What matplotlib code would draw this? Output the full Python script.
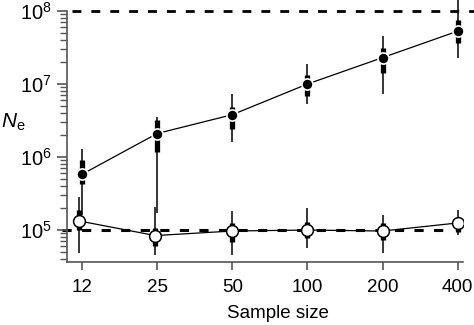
import matplotlib
matplotlib.use('Agg')
import matplotlib.pyplot as plt
import numpy as np
from matplotlib.ticker import LogLocator, NullFormatter

plt.rcParams['font.family'] = ['Liberation Sans', 'DejaVu Sans']
plt.rcParams['mathtext.fontset'] = 'custom'
plt.rcParams['mathtext.rm'] = 'Liberation Sans'
plt.rcParams['mathtext.it'] = 'Liberation Sans:italic'

sample_sizes = ['12', '25', '50', '100', '200', '400']

# closed circles: estimate, inner (thick) range, outer (thin) range
closed_mid = [5.8e5, 2.1e6, 3.8e6, 1.0e7, 2.3e7, 5.3e7]
closed_in_lo = [4.3e5, 1.17e6, 2.4e6, 6.9e6, 1.4e7, 3.6e7]
closed_in_hi = [9.1e5, 3.2e6, 4.8e6, 1.33e7, 3.1e7, 7.5e7]
closed_out_lo = [1.6e5, 1.7e5, 1.6e6, 5.3e6, 7.3e6, 2.3e7]
closed_out_hi = [1.3e6, 3.5e6, 7.3e6, 1.9e7, 4.5e7, 1.6e8]

# open circles
open_mid = [1.33e5, 8.4e4, 9.7e4, 1.0e5, 9.7e4, 1.25e5]
open_in_lo = [1.0e5, 6.0e4, 6.9e4, 7.8e4, 7.3e4, 9.5e4]
open_in_hi = [1.9e5, 1.05e5, 1.25e5, 1.29e5, 1.25e5, 1.4e5]
open_out_lo = [4.8e4, 4.6e4, 4.6e4, 5.7e4, 4.8e4, 8.5e4]
open_out_hi = [2.8e5, 2.1e5, 1.8e5, 2.0e5, 1.6e5, 1.9e5]

true_ne = [1e8, 1e5]

fig = plt.figure(figsize=(4.74, 3.25), dpi=100)
ax = fig.add_axes([67/474, 1 - 262/325, (463 - 67)/474, (262 - 11)/325])
ax.set_yscale('log')
ax.set_ylim(3.65e4, 1e8)
ax.set_xlim(-0.2, 5.07)

x = np.arange(len(sample_sizes))
dodge = np.array([-0.035, -0.025, 0, 0, 0, 0])

# true values as dashed reference lines
ax.plot([-0.13, 5.3], [true_ne[0]] * 2, color='black', lw=2.0,
        dashes=(3.2, 3.6), clip_on=False, zorder=1)
ax.plot([-0.27, 4.85], [true_ne[1]] * 2, color='black', lw=2.2,
        dashes=(3.0, 3.4), clip_on=False, zorder=1)

def draw_series(xs, mid, in_lo, in_hi, out_lo, out_hi, face):
    ax.plot(xs, mid, color='black', lw=0.9, zorder=2)
    ax.vlines(xs, out_lo, out_hi, color='black', lw=1.1, zorder=3, clip_on=False)
    ax.vlines(xs, in_lo, in_hi, color='black', lw=3.8, zorder=3)
    if face == 'black':
        ax.plot(xs, mid, 'o', ms=8, mfc='black', mec='white', mew=1.2, zorder=4)
    else:
        ax.plot(xs, mid, 'o', ms=8.5, mfc='white', mec='black', mew=1.1, zorder=4)

draw_series(x, closed_mid, closed_in_lo, closed_in_hi, closed_out_lo, closed_out_hi, 'black')
draw_series(x + dodge, open_mid, open_in_lo, open_in_hi, open_out_lo, open_out_hi, 'white')

ax.spines['top'].set_visible(False)
ax.spines['right'].set_visible(False)
for s in ['left', 'bottom']:
    ax.spines[s].set_color('#555555')
    ax.spines[s].set_linewidth(1.2)

ax.set_xticks(x)
ax.set_xticklabels(sample_sizes, fontsize=13.5)
ax.yaxis.set_major_locator(LogLocator(base=10, numticks=10))
ax.yaxis.set_minor_locator(LogLocator(base=10, subs=np.arange(2, 10), numticks=10))
ax.yaxis.set_minor_formatter(NullFormatter())
ax.tick_params(axis='y', which='major', length=7, width=1.2, color='#555555',
               labelsize=14.5, pad=4)
ax.tick_params(axis='y', which='minor', length=5, width=1.0, color='#555555')
ax.tick_params(axis='x', length=6, width=1.2, color='#555555', pad=6)

fig.text(278/474, 1 - 314/325, 'Sample size', ha='center', va='center', fontsize=13.5)
fig.text(1/474, 1 - 122/325, r'$N_\mathrm{e}$', ha='left', va='center', fontsize=15)

fig.savefig('out.png', dpi=100)
